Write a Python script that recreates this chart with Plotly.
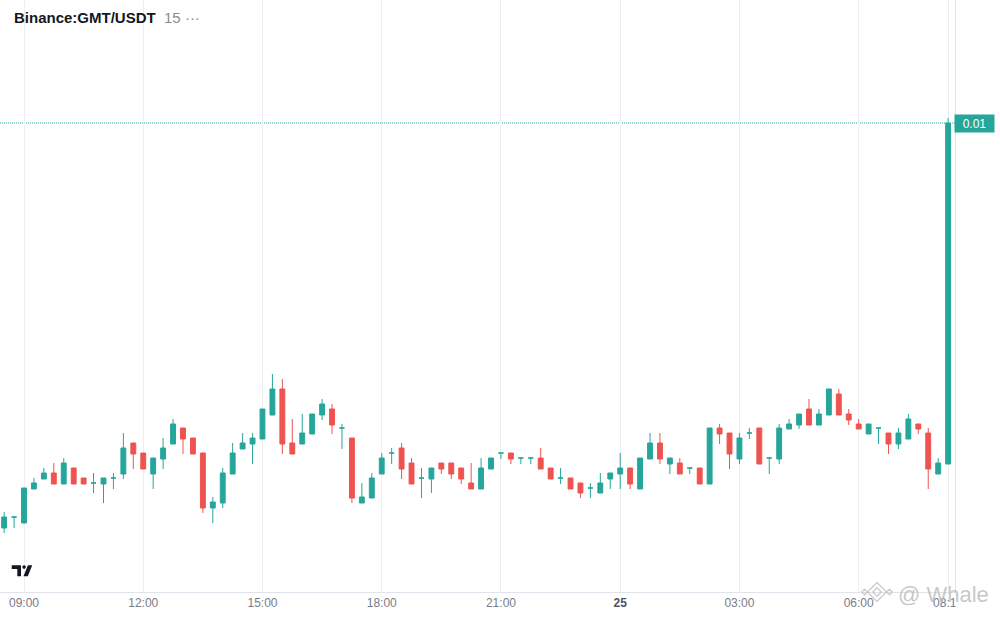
import pandas as pd
import plotly.graph_objects as go

# ---------------- data (15-minute candles, Binance:GMT/USDT) ----------------
start_time = "2025-03-24 08:30"
n_candles = 96

open_ = [0.00595, 0.00606, 0.00600, 0.00634, 0.00644, 0.00650, 0.00639, 0.00655, 0.00645, 0.00640,
         0.00639, 0.00645, 0.00649, 0.00680, 0.00670, 0.00649, 0.00664, 0.00679, 0.00695, 0.00685,
         0.00670, 0.00615, 0.00620, 0.00649, 0.00674, 0.00679, 0.00684, 0.00708, 0.00734, 0.00680,
         0.00679, 0.00689, 0.00708, 0.00714, 0.00695, 0.00685, 0.00620, 0.00625, 0.00649, 0.00670,
         0.00675, 0.00660, 0.00645, 0.00644, 0.00660, 0.00660, 0.00655, 0.00640, 0.00634, 0.00654,
         0.00670, 0.00670, 0.00665, 0.00665, 0.00665, 0.00655, 0.00645, 0.00645, 0.00640, 0.00635,
         0.00630, 0.00644, 0.00649, 0.00655, 0.00634, 0.00664, 0.00680, 0.00659, 0.00660, 0.00655,
         0.00655, 0.00639, 0.00695, 0.00690, 0.00664, 0.00690, 0.00695, 0.00665, 0.00664, 0.00694,
         0.00698, 0.00714, 0.00698, 0.00708, 0.00729, 0.00709, 0.00699, 0.00689, 0.00695, 0.00690,
         0.00679, 0.00684, 0.00699, 0.00690, 0.00649, 0.00659]
high = [0.00611, 0.00606, 0.00635, 0.00645, 0.00655, 0.00660, 0.00665, 0.00655, 0.00645, 0.00650,
        0.00645, 0.00650, 0.00690, 0.00680, 0.00670, 0.00665, 0.00685, 0.00704, 0.00695, 0.00685,
        0.00670, 0.00626, 0.00655, 0.00680, 0.00690, 0.00690, 0.00714, 0.00749, 0.00744, 0.00704,
        0.00709, 0.00709, 0.00724, 0.00719, 0.00699, 0.00685, 0.00640, 0.00650, 0.00670, 0.00675,
        0.00680, 0.00665, 0.00655, 0.00655, 0.00660, 0.00660, 0.00655, 0.00660, 0.00665, 0.00665,
        0.00670, 0.00670, 0.00665, 0.00665, 0.00675, 0.00655, 0.00655, 0.00645, 0.00640, 0.00640,
        0.00650, 0.00650, 0.00670, 0.00655, 0.00665, 0.00690, 0.00690, 0.00665, 0.00665, 0.00655,
        0.00655, 0.00695, 0.00699, 0.00690, 0.00690, 0.00695, 0.00695, 0.00665, 0.00699, 0.00704,
        0.00709, 0.00724, 0.00714, 0.00734, 0.00734, 0.00714, 0.00704, 0.00699, 0.00695, 0.00690,
        0.00695, 0.00709, 0.00699, 0.00695, 0.00665, 0.01005]
low = [0.00590, 0.00595, 0.00600, 0.00634, 0.00644, 0.00639, 0.00639, 0.00639, 0.00639, 0.00630,
       0.00620, 0.00634, 0.00644, 0.00654, 0.00654, 0.00634, 0.00654, 0.00679, 0.00669, 0.00669,
       0.00610, 0.00600, 0.00615, 0.00649, 0.00674, 0.00659, 0.00684, 0.00708, 0.00669, 0.00669,
       0.00679, 0.00689, 0.00703, 0.00689, 0.00674, 0.00620, 0.00620, 0.00625, 0.00649, 0.00659,
       0.00644, 0.00639, 0.00625, 0.00630, 0.00649, 0.00644, 0.00639, 0.00634, 0.00634, 0.00654,
       0.00664, 0.00659, 0.00659, 0.00659, 0.00654, 0.00644, 0.00639, 0.00634, 0.00625, 0.00625,
       0.00630, 0.00634, 0.00634, 0.00634, 0.00634, 0.00664, 0.00659, 0.00649, 0.00649, 0.00649,
       0.00639, 0.00639, 0.00679, 0.00654, 0.00659, 0.00684, 0.00659, 0.00649, 0.00659, 0.00694,
       0.00694, 0.00698, 0.00698, 0.00708, 0.00708, 0.00698, 0.00694, 0.00689, 0.00679, 0.00669,
       0.00674, 0.00684, 0.00689, 0.00634, 0.00649, 0.00659]
close = [0.00606, 0.00606, 0.00635, 0.00640, 0.00650, 0.00639, 0.00660, 0.00639, 0.00639, 0.00640,
         0.00645, 0.00645, 0.00675, 0.00669, 0.00654, 0.00665, 0.00675, 0.00699, 0.00684, 0.00669,
         0.00615, 0.00621, 0.00650, 0.00670, 0.00680, 0.00685, 0.00714, 0.00734, 0.00679, 0.00669,
         0.00690, 0.00709, 0.00719, 0.00698, 0.00695, 0.00625, 0.00626, 0.00645, 0.00665, 0.00670,
         0.00654, 0.00639, 0.00645, 0.00655, 0.00654, 0.00649, 0.00644, 0.00634, 0.00655, 0.00665,
         0.00670, 0.00664, 0.00665, 0.00665, 0.00654, 0.00644, 0.00645, 0.00634, 0.00630, 0.00635,
         0.00640, 0.00650, 0.00655, 0.00639, 0.00665, 0.00680, 0.00664, 0.00665, 0.00649, 0.00655,
         0.00639, 0.00695, 0.00689, 0.00669, 0.00685, 0.00690, 0.00659, 0.00665, 0.00695, 0.00699,
         0.00709, 0.00698, 0.00709, 0.00734, 0.00708, 0.00703, 0.00694, 0.00699, 0.00695, 0.00679,
         0.00690, 0.00704, 0.00694, 0.00654, 0.00660, 0.01000]

tick_times = ["2025-03-24 09:00", "2025-03-24 12:00", "2025-03-24 15:00", "2025-03-24 18:00",
              "2025-03-24 21:00", "2025-03-25 00:00", "2025-03-25 03:00", "2025-03-25 06:00",
              "2025-03-25 08:15"]
tick_labels = ["09:00", "12:00", "15:00", "18:00", "21:00",
               "<b><span style='color:#50535e'>25</span></b>", "03:00", "06:00", "08:15"]

last_price_label = "0.01"
title_symbol = "Binance:GMT/USDT"
title_interval = "15"
watermark = "@ Whale"

# ---------------- styling ----------------
UP = "#26a69a"
DOWN = "#ef5350"
W, H = 1000, 620
PL, PR, PT, PB = 0, 45, 0, 28          # plot area margins (px)
PW, PH = W - PL - PR, H - PT - PB


def px(x):
    return (x - PL) / PW


def py(y):
    return (H - PB - y) / PH


times = pd.date_range(start_time, periods=n_candles, freq="15min")
df = pd.DataFrame({"t": times, "o": open_, "h": high, "l": low, "c": close})
up = df[df.c >= df.o]
dn = df[df.c < df.o]

fig = go.Figure()
for part, col in ((up, UP), (dn, DOWN)):
    fig.add_trace(go.Candlestick(
        x=part.t, open=part.o, high=part.h, low=part.l, close=part.c,
        increasing=dict(line=dict(color=col, width=1), fillcolor=col),
        decreasing=dict(line=dict(color=col, width=1), fillcolor=col),
        whiskerwidth=0, showlegend=False, hoverinfo="skip",
    ))

shapes = [
    # last price dotted line
    dict(type="line", xref="paper", yref="y", x0=0, x1=1, y0=close[-1], y1=close[-1],
         line=dict(color=UP, width=1, dash="1px,1px"), layer="below"),
    # cover under price scale (clips last time label)
    dict(type="rect", xref="paper", yref="paper", x0=px(955.5), x1=px(1000), y0=py(593), y1=py(620),
         fillcolor="white", line=dict(width=0), layer="above"),
    # TradingView logo
    dict(type="path", xref="paper", yref="paper", fillcolor="#131722", line=dict(width=0),
         path=f"M {px(11.7)},{py(565.3)} L {px(21)},{py(565.3)} L {px(21)},{py(576.3)} "
              f"L {px(17.3)},{py(576.3)} L {px(17.3)},{py(569)} L {px(11.7)},{py(569)} Z"),
    dict(type="circle", xref="paper", yref="paper", fillcolor="#131722", line=dict(width=0),
         x0=px(22.3), x1=px(25.9), y0=py(565.3), y1=py(568.9)),
    dict(type="path", xref="paper", yref="paper", fillcolor="#131722", line=dict(width=0),
         path=f"M {px(23.5)},{py(576.3)} L {px(27.8)},{py(576.3)} L {px(32.2)},{py(565.3)} "
              f"L {px(27.9)},{py(565.3)} Z"),
]
# watermark logo (outlined diamonds)
for cx, cy, r in ((877, 592, 9.5), (877, 592, 4.2), (864.5, 592, 2.8), (889.5, 592, 2.8)):
    shapes.append(dict(type="path", xref="paper", yref="paper", layer="above",
                       line=dict(color="rgba(190,190,190,0.75)", width=1.4),
                       path=f"M {px(cx - r)},{py(cy)} L {px(cx)},{py(cy - r)} L {px(cx + r)},{py(cy)} "
                            f"L {px(cx)},{py(cy + r)} Z"))

annotations = [
    dict(xref="paper", yref="paper", x=px(12), y=py(18), xanchor="left", yanchor="middle",
         showarrow=False,
         text=f"<b>{title_symbol}</b>  <span style='color:#8a8d96'>{title_interval} ···</span>",
         font=dict(family="Liberation Sans", size=15, color="#131722")),
    dict(xref="paper", yref="y", x=px(954), y=close[-1], xanchor="left", yanchor="middle",
         showarrow=False, text=last_price_label, bgcolor=UP, width=39, height=17,
         borderpad=0, font=dict(family="Liberation Sans", size=12, color="white")),
    dict(xref="paper", yref="paper", x=px(896), y=py(594), xanchor="left", yanchor="middle",
         showarrow=False, text=watermark,
         font=dict(family="Liberation Sans", size=22, color="rgba(185,185,185,0.8)")),
]

fig.update_layout(
    width=W, height=H,
    margin=dict(l=PL, r=PR, t=PT, b=PB, pad=0),
    paper_bgcolor="white", plot_bgcolor="white",
    boxgap=0.3,
    shapes=shapes, annotations=annotations,
    xaxis=dict(
        type="date", range=["2025-03-24 08:23:46", "2025-03-25 08:25:24"],
        rangeslider=dict(visible=False),
        tickmode="array", tickvals=tick_times, ticktext=tick_labels,
        showgrid=True, gridcolor="#efeff2", gridwidth=1,
        showline=True, linecolor="#e0e3eb", linewidth=1,
        ticks="", tickfont=dict(family="Liberation Sans", size=12, color="#787b86"),
        zeroline=False, fixedrange=True,
    ),
    yaxis=dict(
        range=[0.00531, 0.01123], side="right",
        showgrid=False, showticklabels=False, zeroline=False,
        showline=True, linecolor="#e0e3eb", linewidth=1, ticks="", fixedrange=True,
    ),
    font=dict(family="Liberation Sans"),
)

fig.write_html(
    "out.html",
    config={"displayModeBar": False},
    post_script="document.body.style.margin='0';document.body.style.overflow='hidden';",
)
